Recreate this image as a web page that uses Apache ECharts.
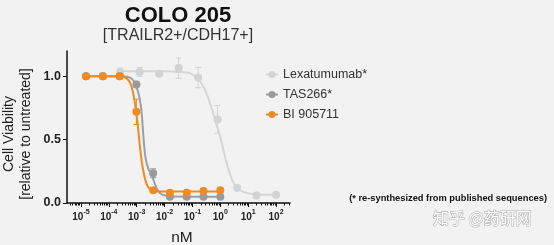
<!DOCTYPE html>
<html><head><meta charset="utf-8">
<script src="https://cdn.jsdelivr.net/npm/echarts@6/dist/echarts.min.js"></script>
<style>html,body{margin:0;padding:0;background:#f2f2f2}#c{width:554px;height:245px}</style>
</head><body><div id="c"></div>
<script>
// ---- data (concentrations in nM, viability relative to untreated) ----
const seriesNames = ['Lexatumumab*', 'TAS266*', 'BI 905711'];
const biConc = [0.0000153, 0.000061, 0.000244, 0.000977, 0.00391, 0.0156, 0.0625, 0.25, 1];
const biViab = [1.0, 1.0, 1.0, 0.72, 0.10, 0.08, 0.08, 0.095, 0.10];
const biErr  = [0, 0.02, 0, 0.10, 0, 0, 0, 0, 0];
const tasConc = [0.0000153, 0.000061, 0.000244, 0.000977, 0.00391, 0.0156, 0.0625, 0.25, 1];
const tasViab = [1.0, 1.0, 1.0, 0.935, 0.235, 0.05, 0.05, 0.05, 0.05];
const tasErr  = [0, 0, 0, 0.02, 0.035, 0, 0, 0, 0];
const lexaConc = [0.000256, 0.00128, 0.0064, 0.032, 0.16, 0.8, 4, 20, 100];
const lexaViab = [1.035, 1.035, 1.02, 1.065, 0.99, 0.66, 0.12, 0.06, 0.065];
const lexaErr  = [0.03, 0.035, 0, 0.08, 0.08, 0.11, 0, 0, 0];
// fitted curves (log10 nM, viability)
const biFitLog   = [-4.82, -3.6, -3.4, -3.25, -3.15, -3.05, -3.0, -2.95, -2.9, -2.85, -2.8, -2.7, -2.6, -2.5, -2.3, -2.0, 0];
const biFitViab  = [1.0, 1.0, 0.99, 0.955, 0.89, 0.77, 0.69, 0.59, 0.48, 0.38, 0.30, 0.19, 0.13, 0.107, 0.093, 0.09, 0.09];
const tasFitLog  = [-4.82, -3.5, -3.2, -3.05, -2.94, -2.86, -2.81, -2.77, -2.73, -2.67, -2.58, -2.46, -2.36, -2.27, -2.15, -1.95, -1.6, 0];
const tasFitViab = [1.0, 1.0, 0.985, 0.94, 0.87, 0.78, 0.68, 0.56, 0.45, 0.34, 0.27, 0.22, 0.16, 0.11, 0.075, 0.058, 0.052, 0.05];
const lexaFitLog  = [-3.59, -2.0, -1.5, -1.09, -0.8, -0.61, -0.45, -0.3, -0.15, 0, 0.15, 0.3, 0.45, 0.6, 0.8, 1.1, 1.5, 2.0];
const lexaFitViab = [1.04, 1.04, 1.035, 1.025, 0.98, 0.92, 0.84, 0.74, 0.63, 0.52, 0.38, 0.26, 0.17, 0.12, 0.09, 0.072, 0.066, 0.065];
// axis ticks
const xTickExponents = [-5, -4, -3, -2, -1, 0, 1, 2];
const yTicks = [0, 0.5, 1.0];

const FONT = '"Liberation Sans", Arial, sans-serif';
const colors = { lexa: '#d3d3d3', lexaLine: '#d6d6d6', tas: '#9a9a9a', tasLine: '#99a0aa', bi: '#f28a22' };

const pts = (conc, v, e) => conc.map((c, i) => [Math.log10(c), v[i], e ? e[i] : 0]);
const fit = (lx, v) => lx.map((x, i) => [x, v[i]]);

const minorTicks = [];
for (let d = -6; d <= 2; d++) for (let k = 2; k <= 9; k++) {
  const v = d + Math.log10(k);
  if (v > -5.5 && v < 2.5) minorTicks.push(v);
}

function errRender(color) {
  return function (params, api) {
    const x = api.value(0), y = api.value(1), e = api.value(2);
    if (!e) return null;
    const t = api.coord([x, y + e]), b = api.coord([x, y - e]);
    const w = 3;
    const st = { stroke: color, lineWidth: 1 };
    return { type: 'group', children: [
      { type: 'line', shape: { x1: t[0], y1: t[1], x2: b[0], y2: b[1] }, style: st },
      { type: 'line', shape: { x1: t[0] - w, y1: t[1], x2: t[0] + w, y2: t[1] }, style: st },
      { type: 'line', shape: { x1: b[0] - w, y1: b[1], x2: b[0] + w, y2: b[1] }, style: st }
    ]};
  };
}

const chart = echarts.init(document.getElementById('c'), null, { renderer: 'canvas' });
const option = {
  backgroundColor: '#f2f2f2',
  animation: false,
  textStyle: { fontFamily: FONT },
  title: [
    { text: 'COLO 205', left: 178, top: 5, textAlign: 'center', padding: 0,
      textStyle: { fontSize: 22, fontWeight: 'bold', color: '#111', fontFamily: FONT } },
    { text: '[TRAILR2+/CDH17+]', left: 178, top: 28, textAlign: 'center', padding: 0,
      textStyle: { fontSize: 16, fontWeight: 'normal', color: '#333', fontFamily: FONT } },
    { text: '(* re-synthesized from published sequences)', right: 7, top: 194, padding: 0,
      textStyle: { fontSize: 9.3, fontWeight: 'bold', color: '#111', fontFamily: FONT } },
    { text: '知乎 @药研网', left: 433, top: 210, padding: 0,
      textStyle: { fontSize: 16, fontWeight: 'normal', color: '#ffffff', textBorderColor: '#b5b5b5', textBorderWidth: 1.2,
        fontFamily: '"Noto Sans CJK SC", sans-serif' } }
  ],
  legend: {
    data: seriesNames, orient: 'vertical', left: 265, top: 67,
    itemWidth: 12, itemHeight: 9, itemGap: 5, padding: 0,
    textStyle: { fontSize: 12.5, color: '#333', fontFamily: FONT, lineHeight: 15 },
    selectedMode: false
  },
  graphic: [
    { type: 'text', x: 9.5, y: 134, rotation: Math.PI / 2,
      style: { text: 'Cell Viability', fontSize: 14, fontFamily: FONT, fill: '#222', align: 'center', verticalAlign: 'middle' } },
    { type: 'text', x: 26, y: 134, rotation: Math.PI / 2,
      style: { text: '[relative to untreated]', fontSize: 14, fontFamily: FONT, fill: '#222', align: 'center', verticalAlign: 'middle' } }
  ],
  grid: { left: 67, right: 264, top: 51, bottom: 42, outerBoundsMode: 'none', containLabel: false },
  xAxis: [
    { type: 'value', min: -5.5, max: 2.5, position: 'bottom',
      name: 'nM', nameLocation: 'middle', nameGap: 27,
      nameTextStyle: { fontSize: 15.5, color: '#222', fontFamily: FONT, padding: [0, 0, 0, 7] },
      axisLine: { show: true, onZero: false, lineStyle: { color: '#111', width: 1.5 } },
      axisTick: { show: true, customValues: xTickExponents, length: 4, lineStyle: { color: '#111', width: 1 } },
      axisLabel: { show: true, customValues: xTickExponents, margin: 6,
        formatter: v => '{b|10}{s|' + v + '}',
        rich: {
          b: { fontSize: 10, fontWeight: 'bold', color: '#222', fontFamily: FONT, lineHeight: 13, verticalAlign: 'bottom' },
          s: { fontSize: 7, fontWeight: 'bold', color: '#222', fontFamily: FONT, verticalAlign: 'top', lineHeight: 8 }
        } },
      splitLine: { show: false } },
    { type: 'value', min: -5.5, max: 2.5, position: 'bottom',
      axisLine: { show: false },
      axisTick: { show: true, customValues: minorTicks, length: 2.5, lineStyle: { color: '#111', width: 1 } },
      axisLabel: { show: false }, splitLine: { show: false } }
  ],
  yAxis: {
    type: 'value', min: 0, max: 1.2,
    axisLine: { show: true, onZero: false, lineStyle: { color: '#111', width: 1.5 } },
    axisTick: { show: true, customValues: yTicks, length: 4, lineStyle: { color: '#111', width: 1 } },
    axisLabel: { customValues: yTicks, margin: 6, fontSize: 12.5, fontWeight: 'bold', color: '#222',
      formatter: v => v.toFixed(1) },
    splitLine: { show: false }
  },
  series: [
    { name: seriesNames[0], type: 'line', data: fit(lexaFitLog, lexaFitViab), smooth: 0.3, symbol: 'circle', symbolSize: 8,
      showSymbol: false, lineStyle: { color: colors.lexaLine, width: 2 }, itemStyle: { color: colors.lexa }, z: 2 },
    { name: seriesNames[1], type: 'line', data: fit(tasFitLog, tasFitViab), smooth: 0.3, symbol: 'circle', symbolSize: 8,
      showSymbol: false, lineStyle: { color: colors.tasLine, width: 2 }, itemStyle: { color: colors.tas }, z: 4 },
    { name: seriesNames[2], type: 'line', data: fit(biFitLog, biFitViab), smooth: 0.3, symbol: 'circle', symbolSize: 8,
      showSymbol: false, lineStyle: { color: colors.bi, width: 2 }, itemStyle: { color: colors.bi }, z: 6 },
    { name: 'lexa-err', type: 'custom', data: pts(lexaConc, lexaViab, lexaErr), renderItem: errRender(colors.lexa), z: 2, silent: true },
    { name: 'tas-err', type: 'custom', data: pts(tasConc, tasViab, tasErr), renderItem: errRender(colors.tas), z: 4, silent: true },
    { name: 'bi-err', type: 'custom', data: pts(biConc, biViab, biErr), renderItem: errRender(colors.bi), z: 6, silent: true },
    { name: seriesNames[0], type: 'scatter', data: pts(lexaConc, lexaViab), symbolSize: 8, itemStyle: { color: colors.lexa, opacity: 1 }, z: 3 },
    { name: seriesNames[1], type: 'scatter', data: pts(tasConc, tasViab), symbolSize: 8, itemStyle: { color: colors.tas, opacity: 1 }, z: 5 },
    { name: seriesNames[2], type: 'scatter', data: pts(biConc, biViab), symbolSize: 8, itemStyle: { color: colors.bi, opacity: 1 }, z: 7 }
  ]
};
chart.setOption(option);
</script>
</body></html>
